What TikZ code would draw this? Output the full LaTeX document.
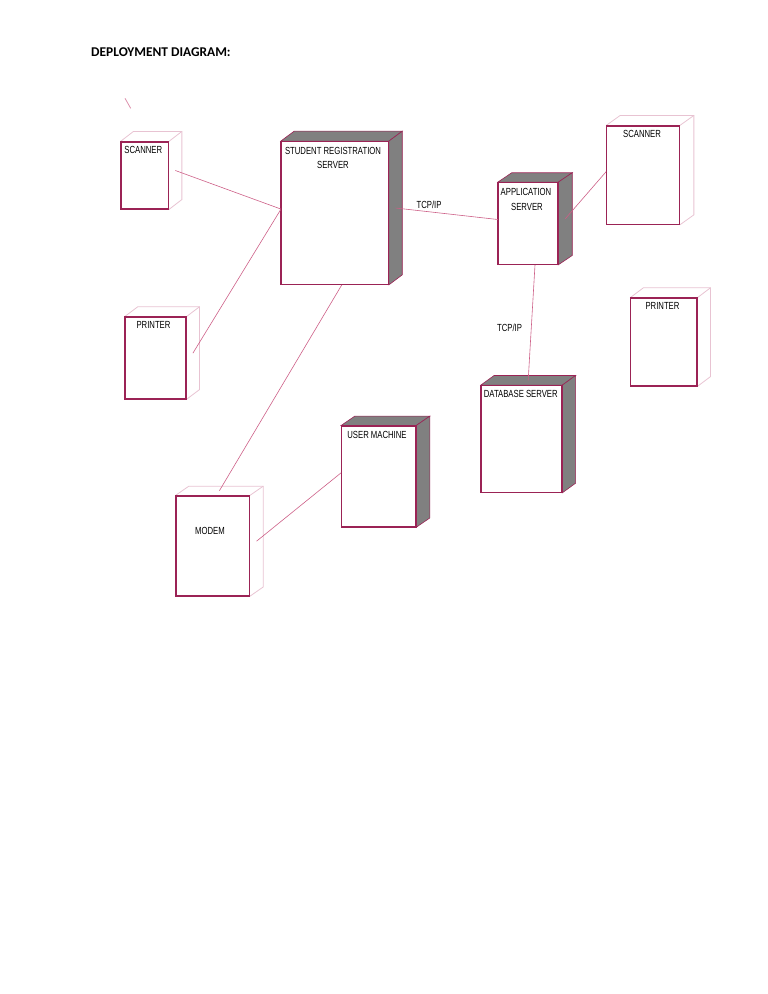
\documentclass[tikz,border=0pt]{standalone}
\usepackage{fontspec}
\usetikzlibrary{calc}
\newfontfamily\narrowfont[FakeStretch=0.75]{Liberation Sans}
\newfontfamily\titlefont{Carlito}
\definecolor{frame}{RGB}{155,35,85}
\definecolor{wire}{RGB}{205,95,135}
\definecolor{pale}{RGB}{232,195,210}
\definecolor{shade}{RGB}{128,128,128}
\tikzset{
  devbox/.style={draw=frame, line width=1.1pt, fill=white, inner sep=0pt, minimum width=#1},
  lbl/.style={font=\narrowfont\fontsize{10.3}{12}\selectfont, inner sep=0pt, text height=7.4pt, text depth=0pt, anchor=center},
  link/.style={draw=wire, line width=0.6pt},
  paleedge/.style={draw=pale, line width=0.8pt},
  shadeface/.style={fill=shade, draw=frame, line width=0.6pt},
}
\begin{document}
\begin{tikzpicture}[x=1pt,y=-1pt]
\useasboundingbox (0,0) rectangle (768,994);
% light 3D box: name, x1,y1,x2,y2, dx, dy
\def\lightbox#1#2#3#4#5#6#7{%
  \node[devbox={#4-#2}, minimum height={#5-#3}] (#1) at ({(#2+#4)/2},{(#3+#5)/2}) {};
  \draw[paleedge] (#1.north west) -- ++(#6,-#7) -- ($(#1.north east)+(#6,-#7)$) -- ($(#1.south east)+(#6,-#7)$) -- (#1.south east);
  \draw[paleedge] (#1.north east) -- ++(#6,-#7);
  \coordinate (#1-side) at ($($(#1.north east)!0.5!(#1.south east)$)+(#6/2,-#7/2)$);
  \coordinate (#1-top) at ($(#1.north)+(#6/2,-#7/2)$);
  \draw[devbox={0pt}, fill=none] (#1.north west) rectangle (#1.south east);
}
\def\darkbox#1#2#3#4#5#6#7{%
  \node[devbox={#4-#2}, minimum height={#5-#3}] (#1) at ({(#2+#4)/2},{(#3+#5)/2}) {};
  \path[shadeface] (#1.north west) -- ++(#6,-#7) -- ($(#1.north east)+(#6,-#7)$) -- (#1.north east) -- cycle;
  \path[shadeface] (#1.north east) -- ($(#1.north east)+(#6,-#7)$) -- ($(#1.south east)+(#6,-#7)$) -- (#1.south east) -- cycle;
  \coordinate (#1-side) at ($($(#1.north east)!0.5!(#1.south east)$)+(#6/2,-#7/2)$);
  \coordinate (#1-top) at ($(#1.north)+(#6/2,-#7/2)$);
  \draw[devbox={0pt}, fill=none] (#1.north west) rectangle (#1.south east);
}
% title
\node[font=\titlefont\bfseries\fontsize{13.4}{15}\selectfont, anchor=west, inner sep=0pt, text height=8.6pt, text depth=0pt] (title) at (91,52.5) {DEPLOYMENT DIAGRAM:};
% stray tick
\coordinate (tickA) at (125,98.3);
\coordinate (tickB) at (130.7,108.3);
\draw[paleedge, draw=wire!70] (tickA) -- (tickB);

% boxes
\lightbox{scanL}{121}{142}{168.3}{209}{13}{10}
\lightbox{prnL}{125}{317.3}{185.7}{399}{13.3}{10}
\lightbox{scanR}{606.7}{126}{679.3}{224.3}{14}{10}
\lightbox{prnR}{630.7}{298.3}{696.7}{386}{13.3}{10}
\lightbox{modem}{176}{496}{249.3}{595.7}{13.4}{9.3}
\darkbox{ssrv}{281.3}{141.7}{388.3}{284.3}{13.4}{10}
\darkbox{app}{498.3}{182.7}{557.7}{264.3}{14}{9.4}
\darkbox{db}{481.3}{385.7}{561.7}{492.3}{13.4}{9.7}
\darkbox{um}{341.7}{426}{415.7}{526.7}{13.6}{9.3}

% connectors
\draw[link] (scanL-side) -- ($(ssrv.west)+(0,-4)$);
\draw[link] (prnL-side) -- ($(ssrv.west)+(0,-3.5)$);
\draw[link] ($(ssrv.south)+(7,0)$) -- (modem-top);
\draw[link] (modem-side) -- ($(um.west)+(0,-3.6)$);
\draw[link] (ssrv-side) -- ($(app.west)+(0,-4)$);
\draw[link] (app-side) -- ($(scanR.west)+(0,-3.5)$);
\draw[link] ($(app.south)+(7,0)$) -- (db-top);

% labels
\node[lbl] (scanL-t) at (143.3,150) {SCANNER};
\node[lbl] (ssrv-t1) at (333,150.7) {STUDENT REGISTRATION};
\node[lbl] (ssrv-t2) at (333,165) {SERVER};
\node[lbl] (app-t1) at (526,191.7) {APPLICATION};
\node[lbl] (app-t2) at (527,206.7) {SERVER};
\node[lbl] (scanR-t) at (642,134) {SCANNER};
\node[lbl] (prnR-t) at (662.5,306) {PRINTER};
\node[lbl] (db-t) at (520.8,393.3) {DATABASE SERVER};
\node[lbl] (um-t) at (377,434.3) {USER MACHINE};
\node[lbl] (prnL-t) at (153.5,324.3) {PRINTER};
\node[lbl] (modem-t) at (210,531) {MODEM};
\node[lbl] (tcp1) at (429,204.3) {TCP/IP};
\node[lbl] (tcp2) at (509.5,327.7) {TCP/IP};
\end{tikzpicture}
\end{document}
